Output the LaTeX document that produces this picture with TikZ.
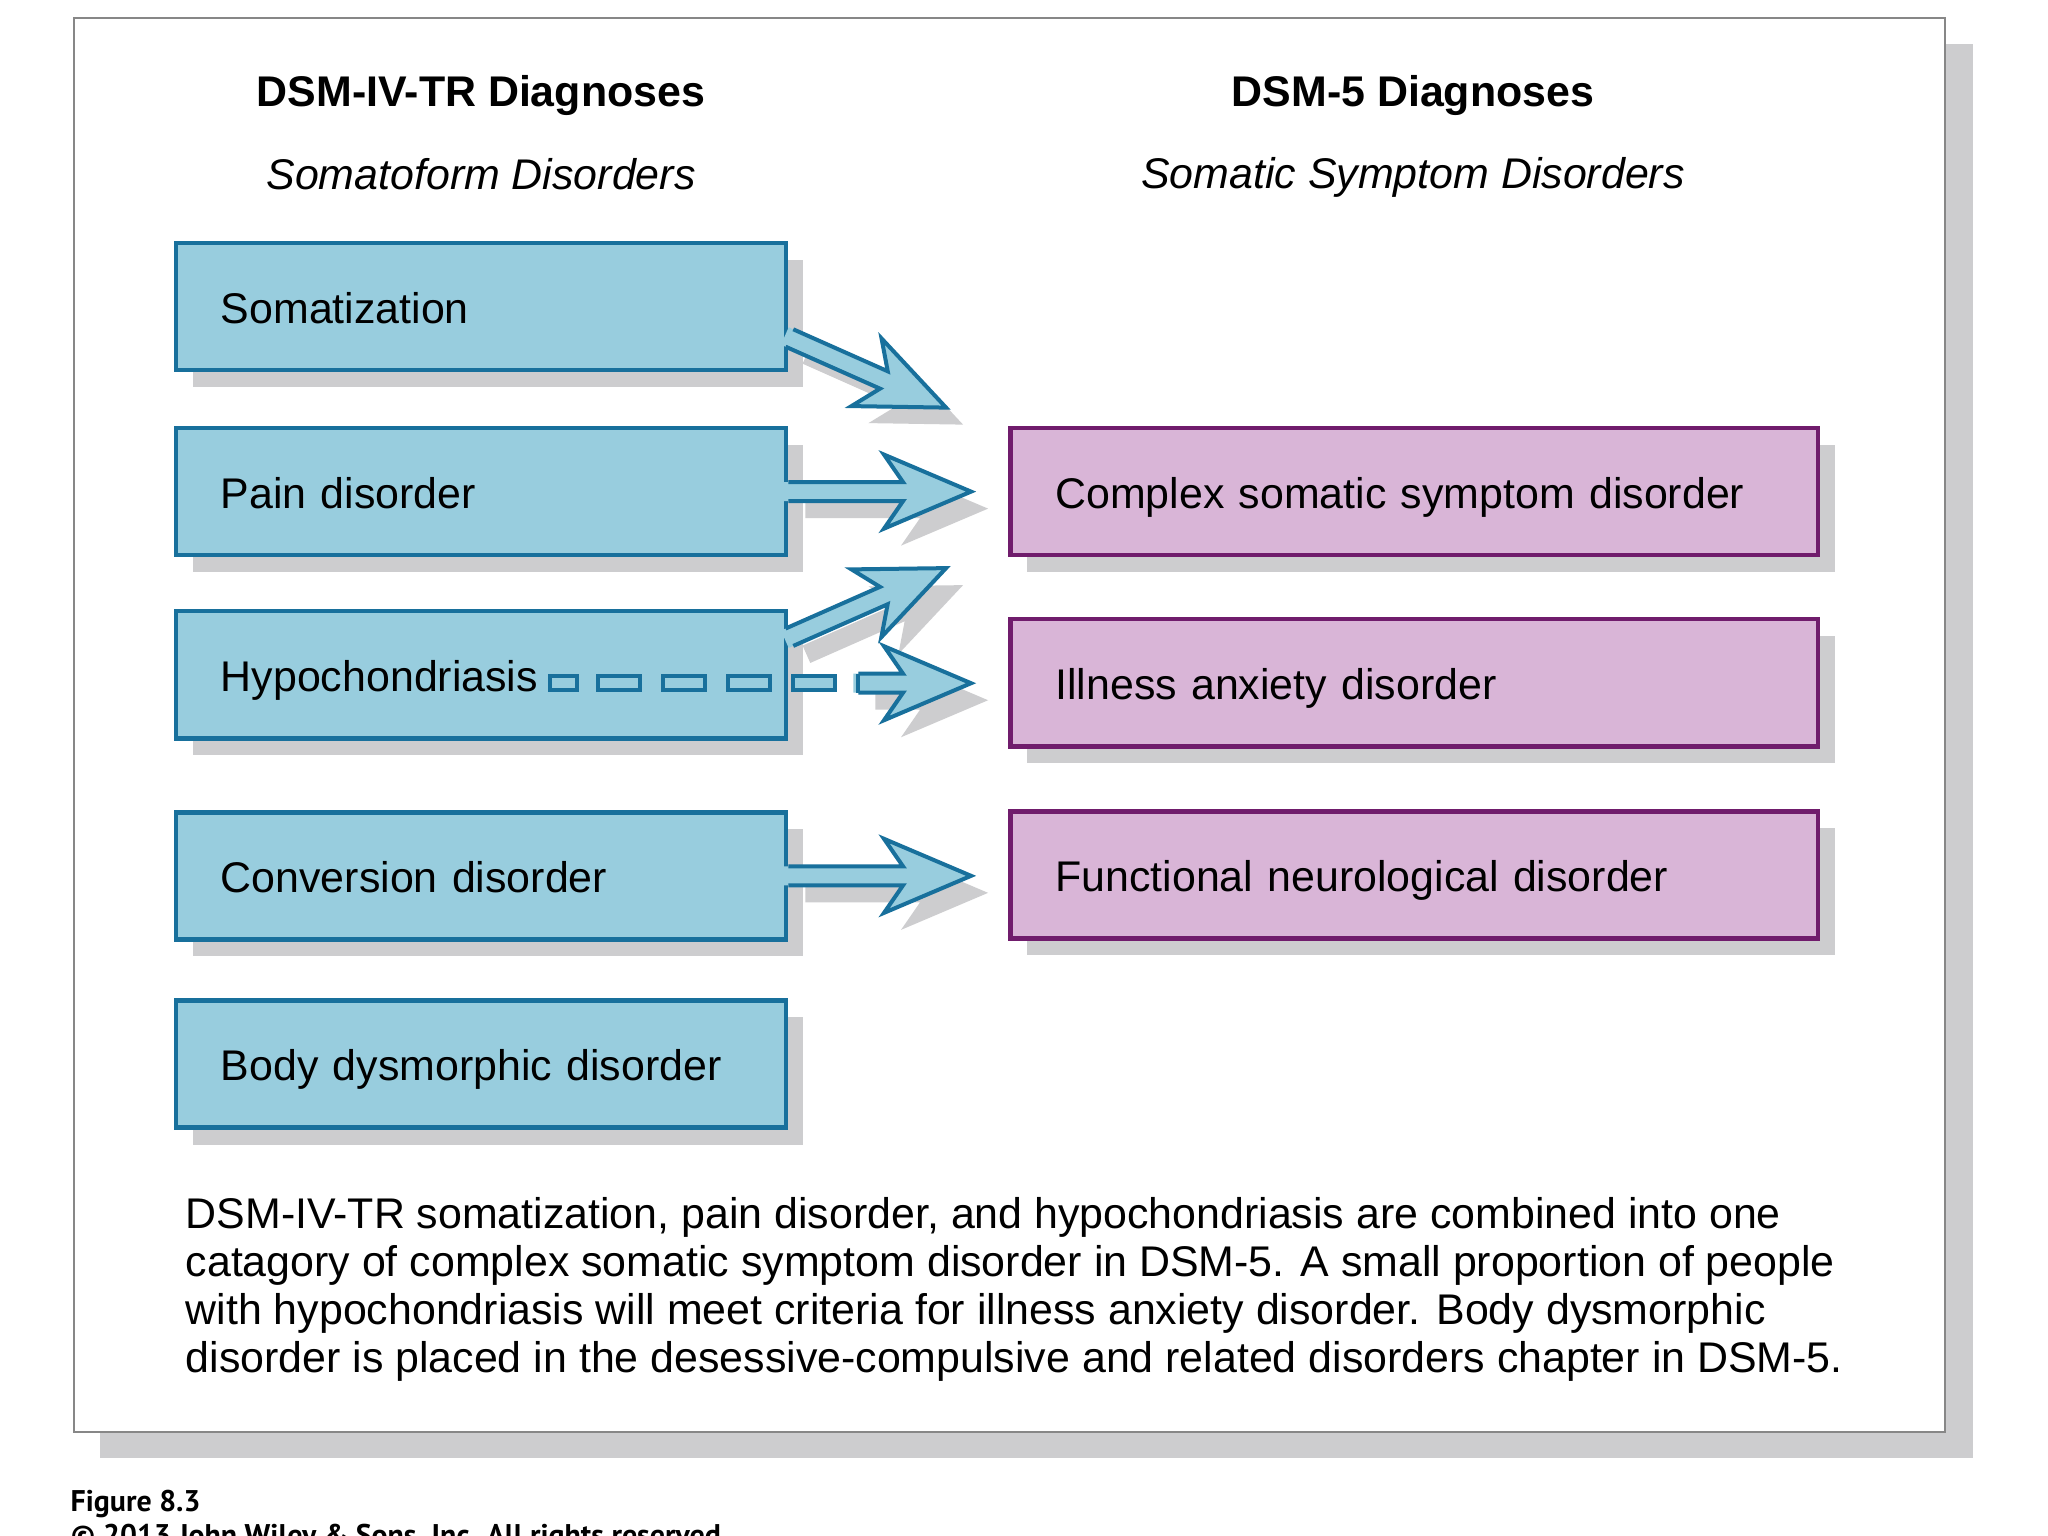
\documentclass[tikz,border=0pt]{standalone}
\usepackage{fontspec}
\setmainfont{Liberation Sans}
\newfontfamily\capfont{PT Sans}
\usepackage{xcolor}
\definecolor{boxBlue}{RGB}{152, 205, 222}
\definecolor{boxBlueBorder}{RGB}{24, 112, 156}
\definecolor{boxPink}{RGB}{217, 181, 215}
\definecolor{boxPinkBorder}{RGB}{112, 28, 108}
\definecolor{shadowGray}{RGB}{205, 205, 207}
\definecolor{frameGray}{RGB}{135, 135, 135}
\usepackage{tikz}
\usetikzlibrary{positioning, calc, shadows, backgrounds}
\pgfdeclarelayer{background}
\pgfsetlayers{background,main}

% block arrow with a grey shadow, from #1 (shaft start) to #2 (tip)
\newcommand{\fatarrow}[2]{%
	\coordinate (fa-s) at (#1);
	\coordinate (fa-t) at (#2);
	\coordinate (fa1) at ($(fa-s)!0.095cm!90:(fa-t)$);
	\coordinate (fa2) at ($(fa-t)!0.68cm!(fa-s)!0.095cm!-90:(fa-s)$);
	\coordinate (fa3) at ($(fa-t)!0.87cm!(fa-s)!0.37cm!-90:(fa-s)$);
	\coordinate (fa4) at ($(fa-t)!0.87cm!(fa-s)!0.37cm!90:(fa-s)$);
	\coordinate (fa5) at ($(fa-t)!0.68cm!(fa-s)!0.095cm!90:(fa-s)$);
	\coordinate (fa6) at ($(fa-s)!0.095cm!-90:(fa-t)$);
	\begin{pgfonlayer}{background}
		\fill[arrshadow] (fa1) -- (fa2) -- (fa3) -- (fa-t) -- (fa4) -- (fa5) -- (fa6) -- cycle;
	\end{pgfonlayer}
	\fill[arrfill] ($(fa1)!-0.05cm!(fa2)$) -- (fa2) -- (fa3) -- (fa-t) -- (fa4) -- (fa5)
		-- ($(fa6)!-0.05cm!(fa5)$) -- cycle;
	\draw[arrline] (fa1) -- (fa2) -- (fa3) -- (fa-t) -- (fa4) -- (fa5) -- (fa6);
}

\begin{document}
\begin{tikzpicture}[
		x=0.01cm, y=-0.01cm,
		font=\fontsize{12.2}{14}\selectfont,
		head/.style={font=\fontsize{12.2}{14}\selectfont\bfseries},
		sub/.style={font=\fontsize{12.2}{14}\selectfont\itshape},
		oldbox/.style={rectangle, draw=boxBlueBorder, fill=boxBlue, line width=0.045cm,
			text width=5.2cm, inner xsep=0.45cm, minimum height=1.27cm, align=left,
			text height=0.34cm, text depth=0cm,
			drop shadow={shadow xshift=0.17cm, shadow yshift=-0.17cm, fill=shadowGray, opacity=1}},
		newbox/.style={oldbox, draw=boxPinkBorder, fill=boxPink, text width=7.17cm},
		arrfill/.style={fill=boxBlue},
		arrline/.style={draw=boxBlueBorder, line width=0.04cm, line join=miter},
		arrshadow/.style={fill=shadowGray, transform canvas={shift={(0.17cm,-0.17cm)}}}
		]
		\useasboundingbox (0,0) rectangle (2048,1536);

		% frame
		\begin{pgfonlayer}{background}
			\fill[white] (0,0) rectangle (2048,1536);
			\fill[shadowGray] (100,44) rectangle (1973,1458);
			\draw[frameGray, fill=white, line width=0.025cm] (74,18) rectangle (1945,1432);
		\end{pgfonlayer}

		\node[head] (oldhead) at (481,95)  {DSM-IV-TR Diagnoses};
		\node[sub]  (oldsub)  at (481,174) {Somatoform Disorders};
		\node[head] (newhead) at (1413,95)  {DSM-5 Diagnoses};
		\node[sub]  (newsub)  at (1413,177) {Somatic Symptom Disorders};

		\node[oldbox] (soma) at (481,306.5) {Somatization};
		\node[oldbox, below=0.535cm of soma] (pain) {Pain disorder};
		\node[oldbox, below=0.515cm of pain] (hypo) {Hypochondriasis};
		\node[oldbox, below=0.695cm of hypo] (conv) {Conversion disorder};
		\node[oldbox, below=0.565cm of conv] (bdd)  {Body dysmorphic disorder};

		\node[newbox, right=2.195cm of pain] (cssd) {Complex somatic symptom disorder};
		\node[newbox, below=0.595cm of cssd] (iad)  {Illness anxiety disorder};
		\node[newbox, below=0.605cm of iad]  (fnd)  {Functional neurological disorder};

		\fatarrow{$(soma.east)+(1,31.5)$}{$(cssd.west)+(-62,-84)$}
		\fatarrow{pain.east}{$(cssd.west)+(-37,0)$}
		\fatarrow{$(hypo.east)+(1,-37.5)$}{$(cssd.west)+(-62,76.5)$}
		\fatarrow{conv.east}{$(conv.east -| fnd.west)+(-37,0)$}

		% dashed link hypochondriasis -> illness anxiety
		\foreach \dx/\dw in {-238/27, -190/42, -125/42, -60/42, 5/42}
			\draw[arrline, arrfill] ($(hypo.east)+(\dx,1.5)$) rectangle ++(\dw,14);
		\fatarrow{$(hypo.east)+(70,8.5)$}{$(hypo.east -| iad.west)+(-37,8.5)$}
		\draw[arrline] (fa1) -- (fa6);

		\node[anchor=north west, align=left, inner sep=0pt,
			font=\fontsize{12.2}{13.66}\selectfont] (note) at (185,1197)
		{DSM-IV-TR somatization, pain disorder, and hypochondriasis are combined into one\\
			catagory of complex somatic symptom disorder in DSM-5. A small proportion of people\\
			with hypochondriasis will meet criteria for illness anxiety disorder. Body dysmorphic\\
			disorder is placed in the desessive-compulsive and related disorders chapter in DSM-5.};

		\node[anchor=west, inner sep=0pt, font=\capfont\bfseries\fontsize{8.5}{10}\selectfont]
			(fig) at (70,1504) {Figure 8.3};
		\node[anchor=west, inner sep=0pt, font=\capfont\bfseries\fontsize{8.5}{10}\selectfont]
			(copy) at (70,1538) {\textcopyright\ 2013 John Wiley \& Sons, Inc. All rights reserved.};
	\end{tikzpicture}
\end{document}
